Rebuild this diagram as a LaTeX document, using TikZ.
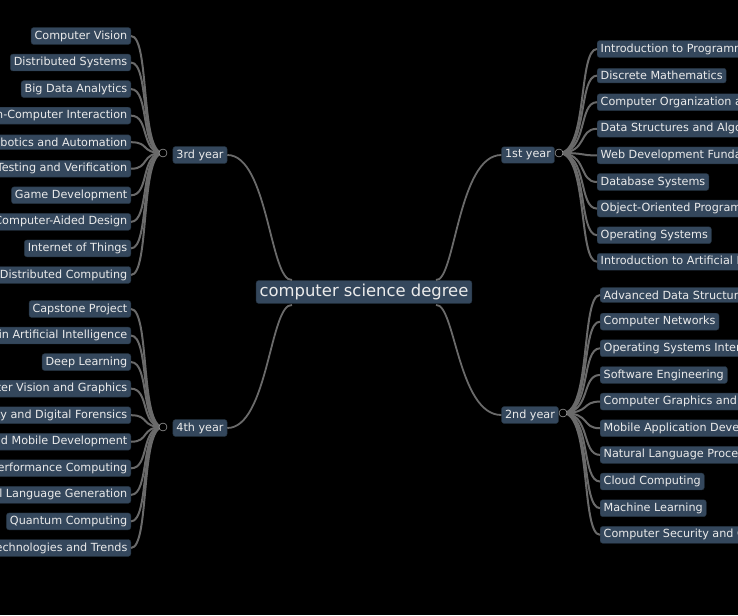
\documentclass[tikz,border=0pt]{standalone}
\usepackage{fontspec}
\setmainfont{DejaVu Sans}
\definecolor{nodebg}{HTML}{34475C}
\definecolor{edge}{HTML}{6A6A6A}
\begin{document}
\begin{tikzpicture}[x=1pt,y=-1pt,
  leaf/.style={fill=nodebg,draw=nodebg!70!black,rounded corners=2.5pt,text=white!92!black,font=\fontsize{11.2}{13}\selectfont,inner xsep=3.5pt,inner ysep=3pt},
  yr/.style={leaf},
  root/.style={leaf,font=\fontsize{16.4}{18}\selectfont,inner ysep=3.5pt},
  br/.style={draw=edge,line width=2pt},
  con/.style={draw=edge,line width=1.8pt},
  knob/.style={circle,draw=white!80!black,fill=black,inner sep=0pt,minimum size=8pt}]
\fill[black] (0,0) rectangle (738,615);
\useasboundingbox (0,0) rectangle (738,615);
\clip (0,0) rectangle (738,615);
\node[root] (c) at (364,292) {computer science degree};
\node[yr] (y3) at (200,155) {3rd year};
\node[yr] (y4) at (200,428) {4th year};
\node[yr] (y1) at (528,155) {1st year};
\node[yr] (y2) at (530,415) {2nd year};
\coordinate (k3) at (163,153);
\coordinate (k4) at (163,427);
\coordinate (k1) at (559,153);
\coordinate (k2) at (563,413);
\draw[con] (y3.east) .. controls (268,155) and (270,282) .. (292,280);
\draw[con] (y4.east) .. controls (268,428) and (270,303) .. (292,305);
\draw[con] (y1.west) .. controls (458,155) and (455,282) .. (436,280);
\draw[con] (y2.west) .. controls (458,415) and (455,303) .. (436,305);
\foreach \t [count=\i] in {Computer Vision,Distributed Systems,Big Data Analytics,Human-Computer Interaction,Robotics and Automation,Software Testing and Verification,Game Development,Computer-Aided Design,Internet of Things,Parallel and Distributed Computing}{
  \pgfmathsetmacro\yy{36+(\i-1)*26.55}
  \node[leaf,anchor=east] (a\i) at (131,\yy) {\t};
  \draw[br] (a\i.east) .. controls (150,\yy) and (140,153) .. (k3);
}
\foreach \t [count=\i] in {Capstone Project,Advanced Topics in Artificial Intelligence,Deep Learning,Advanced Computer Vision and Graphics,Cybersecurity and Digital Forensics,Web and Mobile Development,High-Performance Computing,Natural Language Generation,Quantum Computing,Emerging Technologies and Trends}{
  \pgfmathsetmacro\yy{309+(\i-1)*26.55}
  \node[leaf,anchor=east] (b\i) at (131,\yy) {\t};
  \draw[br] (b\i.east) .. controls (150,\yy) and (140,427) .. (k4);
}
\foreach \t [count=\i] in {Introduction to Programming,Discrete Mathematics,Computer Organization and Architecture,Data Structures and Algorithms,Web Development Fundamentals,Database Systems,Object-Oriented Programming,Operating Systems,Introduction to Artificial Intelligence}{
  \pgfmathsetmacro\yy{49+(\i-1)*26.6}
  \node[leaf,anchor=west] (d\i) at (597,\yy) {\t};
  \draw[br] (d\i.west) .. controls (578,\yy) and (588,153) .. (k1);
}
\foreach \t [count=\i] in {Advanced Data Structures,Computer Networks,Operating Systems Internals,Software Engineering,Computer Graphics and Visualization,Mobile Application Development,Natural Language Processing,Cloud Computing,Machine Learning,Computer Security and Cryptography}{
  \pgfmathsetmacro\yy{295+(\i-1)*26.65}
  \node[leaf,anchor=west] (e\i) at (600,\yy) {\t};
  \draw[br] (e\i.west) .. controls (581,\yy) and (591,413) .. (k2);
}
\node[knob] at (k3) {};
\node[knob] at (k4) {};
\node[knob] at (k1) {};
\node[knob] at (k2) {};
\end{tikzpicture}
\end{document}
